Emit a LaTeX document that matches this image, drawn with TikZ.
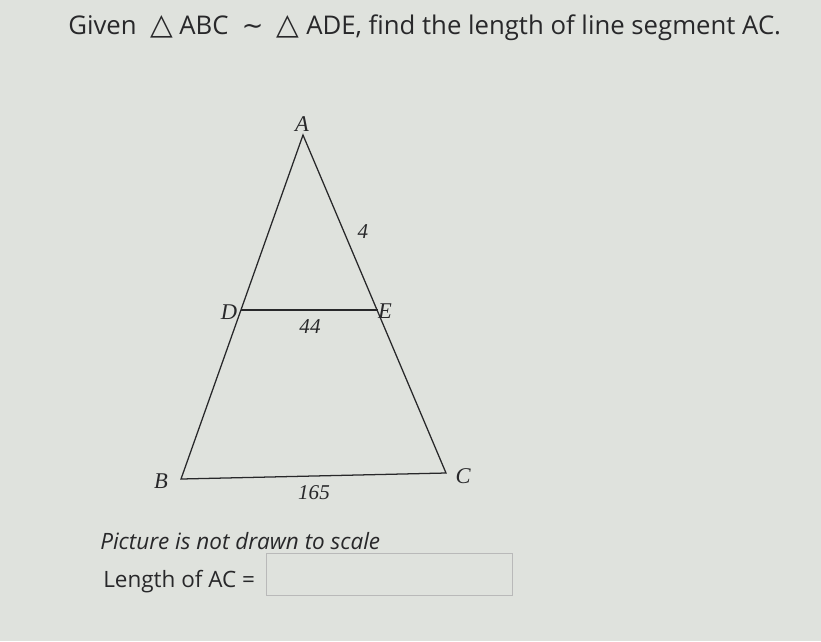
\documentclass[tikz,border=0pt]{standalone}
\usepackage{fontspec}
\setmainfont{Open Sans}
\newfontfamily\symfont{DejaVu Sans}
\newfontfamily\figfont{Liberation Serif}
\definecolor{screen}{RGB}{223,226,221}
\definecolor{ink}{RGB}{40,40,42}
\tikzset{
  vertex/.style={font=\figfont\itshape\fontsize{16}{16}\selectfont,text=ink,inner sep=1pt},
  side/.style={font=\figfont\itshape\fontsize{15}{15}\selectfont,text=ink,inner sep=1pt},
  prompt/.style={font=\fontsize{16}{16}\selectfont,text=ink,anchor=west,inner sep=0pt}
}
\begin{document}
\begin{tikzpicture}[x=0.025cm,y=-0.025cm]
\fill[screen](0,0)rectangle(821,641);
\useasboundingbox(0,0)rectangle(821,641);
\node[anchor=west,inner sep=0pt,text=ink,font=\fontsize{18.3}{19}\selectfont](title) at (68,28)
  {Given \ {\symfont\fontsize{21}{19}\selectfont △} ABC \ {\symfont ∼} \ {\symfont\fontsize{21}{19}\selectfont △} ADE, find the length of line segment AC.};
\coordinate(A) at(303,135);
\coordinate(B) at(181,479);
\coordinate(C) at(446,473);
\coordinate(D) at(241,310);
\coordinate(E) at(378,310);
\draw[ink,line width=0.9pt](A)--(B)--(C)--cycle;
\draw[ink,line width=1.4pt](D)--(E);
\node[vertex](a) at (302,124) {A};
\node[vertex](b) at (161,481) {B};
\node[vertex](c) at (463,476) {C};
\node[vertex](d) at (229,312) {D};
\node[vertex](e) at (385,311) {E};
\node[side](s4) at (363,232) {4};
\node[side](s44) at (310,327) {44};
\node[side](s165) at (314,493) {165};
\node[prompt,font=\fontsize{16}{16}\selectfont\itshape](note) at (100,541) {Picture is not drawn to scale};
\node[prompt](ask) at (103,582) {Length of AC =};
\node[draw=gray!55,line width=0.6pt,minimum width=246*0.025cm,minimum height=42*0.025cm,inner sep=0pt](answer) at (389,574) {};
\end{tikzpicture}
\end{document}
